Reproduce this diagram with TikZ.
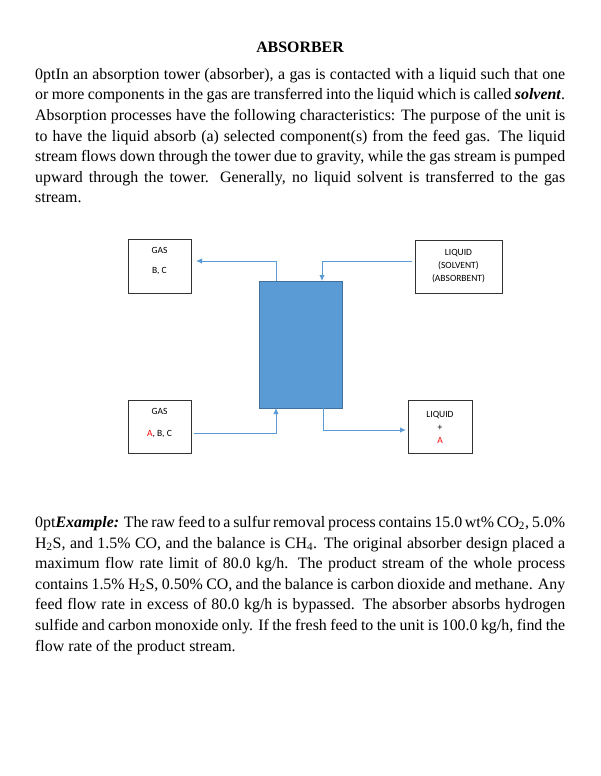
\documentclass[tikz,border=0pt]{standalone}
\usepackage{fontspec}
\setmainfont{Liberation Serif}
\newfontfamily\boxfont{Carlito}
\usetikzlibrary{arrows.meta}
\begin{document}
\begin{tikzpicture}[x=1pt,y=-1pt,
  lbox/.style={draw=black!80,line width=0.7pt,fill=white},
  btxt/.style={font=\boxfont\fontsize{9.5}{13}\selectfont,align=center},
  flow/.style={draw={rgb,255:red,91;green,155;blue,213},line width=1pt,-{Latex[length=6pt,width=5.5pt]}},
  para/.style={anchor=north west,text width=530pt,inner sep=0pt,align=justify,font=\fontsize{15.9}{20.6}\selectfont\hyphenpenalty=10000\exhyphenpenalty=10000}]
\useasboundingbox (0,0) rectangle (600,776);
\node[font=\bfseries\fontsize{15.9}{17}\selectfont] (title) at (300,47) {ABSORBER};
\node[para] (p1) at (35,68) {In an absorption tower (absorber), a gas is contacted with a liquid such that one or more components in the gas are transferred into the liquid which is called \textbf{\textit{solvent}}. Absorption processes have the following characteristics: The purpose of the unit is to have the liquid absorb (a) selected component(s) from the feed gas. The liquid stream flows down through the tower due to gravity, while the gas stream is pumped upward through the tower. Generally, no liquid solvent is transferred to the gas stream.};
\draw[lbox] (128,239) rectangle (191,293);
\node[btxt] (g1) at (159.5,250) {GAS};
\node[btxt] (g1b) at (159.5,271) {B, C};
\draw[lbox] (415,240) rectangle (502,293);
\node[btxt] (l1) at (458.5,266) {LIQUID\\(SOLVENT)\\(ABSORBENT)};
\draw[lbox] (128,400) rectangle (191,453);
\node[btxt] (g2) at (159.5,411) {GAS};
\node[btxt] (g2b) at (159.5,434) {\textcolor{red}{A}, B, C};
\draw[lbox] (408,400) rectangle (472,453);
\node[btxt] (l2) at (440,427) {LIQUID\\+\\\textcolor{red}{A}};
\draw[draw={rgb,255:red,65;green,113;blue,156},fill={rgb,255:red,91;green,155;blue,213},line width=0.7pt] (259,281) rectangle (342,408);
\coordinate (c1) at (276,281); \coordinate (c2) at (196,261);
\draw[flow] (c1) |- (c2);
\coordinate (c3) at (412,261); \coordinate (c4) at (322,281);
\draw[flow] (c3) -| (c4);
\coordinate (c5) at (194,433); \coordinate (c6) at (276,408);
\draw[flow] (c5) -| (c6);
\coordinate (c7) at (323,408); \coordinate (c8) at (406,430);
\draw[flow] (c7) |- (c8);
\node[para] (p2) at (35,516) {\textbf{\textit{Example:}} The raw feed to a sulfur removal process contains 15.0\,wt\% CO\textsubscript{2}, 5.0\% H\textsubscript{2}S, and 1.5\% CO, and the balance is CH\textsubscript{4}. The original absorber design placed a maximum flow rate limit of 80.0 kg/h. The product stream of the whole process contains 1.5\% H\textsubscript{2}S, 0.50\% CO, and the balance is carbon dioxide and methane. Any feed flow rate in excess of 80.0 kg/h is bypassed. The absorber absorbs hydrogen sulfide and carbon monoxide only. If the fresh feed to the unit is 100.0 kg/h, find the flow rate of the product stream.};
\end{tikzpicture}
\end{document}
